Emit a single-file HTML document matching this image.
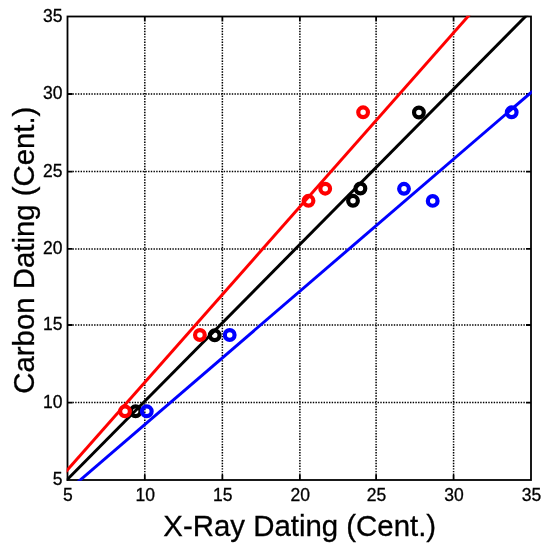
<!DOCTYPE html><html><head><meta charset="utf-8"><title>Carbon vs X-Ray Dating</title><style>html,body{margin:0;padding:0;background:#fff;width:550px;height:549px;overflow:hidden}svg{display:block}text{font-family:"Liberation Sans",Arial,Helvetica,sans-serif;fill:#000}</style></head><body>
<svg width="550" height="549" viewBox="0 0 550 549">
<rect width="550" height="549" fill="#fff"/>
<defs><clipPath id="c"><rect x="66.70" y="15.70" width="465.10" height="465.10"/></clipPath></defs>
<path d="M144.81 475.00V21.50M72.50 402.56H526.00M222.37 475.00V21.50M72.50 324.98H526.00M299.89 475.00V21.50M72.50 248.90H526.00M376.10 475.00V21.50M72.50 171.56H526.00M453.58 475.00V21.50M72.50 94.00H526.00" stroke="#000" stroke-width="1.5" stroke-dasharray="1.4 1.3" fill="none"/>
<path d="M144.81 480.00v-5.00M144.81 16.50v5.00M67.50 402.56h5.00M531.00 402.56h-5.00M222.37 480.00v-5.00M222.37 16.50v5.00M67.50 324.98h5.00M531.00 324.98h-5.00M299.89 480.00v-5.00M299.89 16.50v5.00M67.50 248.90h5.00M531.00 248.90h-5.00M376.10 480.00v-5.00M376.10 16.50v5.00M67.50 171.56h5.00M531.00 171.56h-5.00M453.58 480.00v-5.00M453.58 16.50v5.00M67.50 94.00h5.00M531.00 94.00h-5.00" stroke="#000" stroke-width="1.8" fill="none"/>
<rect x="67.50" y="16.50" width="463.50" height="463.50" fill="none" stroke="#000" stroke-width="1.8"/>
<g clip-path="url(#c)" fill="none" stroke-width="2.95">
<line x1="-9.75" y1="557.25" x2="608.25" y2="-142.33" stroke="#ff0000"/>
<line x1="40.00" y1="507.05" x2="560.00" y2="-18.41" stroke="#000000"/>
<line x1="40.00" y1="514.62" x2="560.00" y2="67.62" stroke="#0000ff"/>
</g>
<g fill="none" stroke-width="4.2">
<circle cx="135.6" cy="411.3" r="4.85" stroke="#000000"/>
<circle cx="214.7" cy="335.3" r="4.85" stroke="#000000"/>
<circle cx="353.0" cy="200.8" r="4.85" stroke="#000000"/>
<circle cx="360.4" cy="188.5" r="4.85" stroke="#000000"/>
<circle cx="418.9" cy="112.5" r="4.85" stroke="#000000"/>
<circle cx="125.0" cy="411.3" r="4.85" stroke="#ff0000"/>
<circle cx="199.9" cy="335.0" r="4.85" stroke="#ff0000"/>
<circle cx="308.5" cy="200.8" r="4.85" stroke="#ff0000"/>
<circle cx="325.2" cy="188.7" r="4.85" stroke="#ff0000"/>
<circle cx="363.1" cy="112.3" r="4.85" stroke="#ff0000"/>
<circle cx="146.8" cy="411.3" r="4.85" stroke="#0000ff"/>
<circle cx="229.7" cy="335.0" r="4.85" stroke="#0000ff"/>
<circle cx="404.0" cy="188.8" r="4.85" stroke="#0000ff"/>
<circle cx="432.7" cy="200.9" r="4.85" stroke="#0000ff"/>
<circle cx="511.7" cy="112.3" r="4.85" stroke="#0000ff"/>
</g>
<g font-size="17.5" stroke="#000" stroke-width="0.3">
<text x="67.90" y="501.3" text-anchor="middle">5</text>
<text x="145.21" y="501.3" text-anchor="middle">10</text>
<text x="222.77" y="501.3" text-anchor="middle">15</text>
<text x="300.29" y="501.3" text-anchor="middle">20</text>
<text x="376.50" y="501.3" text-anchor="middle">25</text>
<text x="453.98" y="501.3" text-anchor="middle">30</text>
<text x="531.40" y="501.3" text-anchor="middle">35</text>
<text x="62.5" y="485.20" text-anchor="end">5</text>
<text x="62.5" y="407.76" text-anchor="end">10</text>
<text x="62.5" y="330.18" text-anchor="end">15</text>
<text x="62.5" y="254.10" text-anchor="end">20</text>
<text x="62.5" y="176.76" text-anchor="end">25</text>
<text x="62.5" y="99.20" text-anchor="end">30</text>
<text x="62.5" y="21.70" text-anchor="end">35</text>
</g>
<text x="299.75" y="535.5" font-size="29.4" stroke="#000" stroke-width="0.3" text-anchor="middle">X-Ray Dating (Cent.)</text>
<text transform="translate(34.3 250.15) rotate(-90)" x="0" y="0" font-size="29.35" stroke="#000" stroke-width="0.3" text-anchor="middle">Carbon Dating (Cent.)</text>
</svg></body></html>
